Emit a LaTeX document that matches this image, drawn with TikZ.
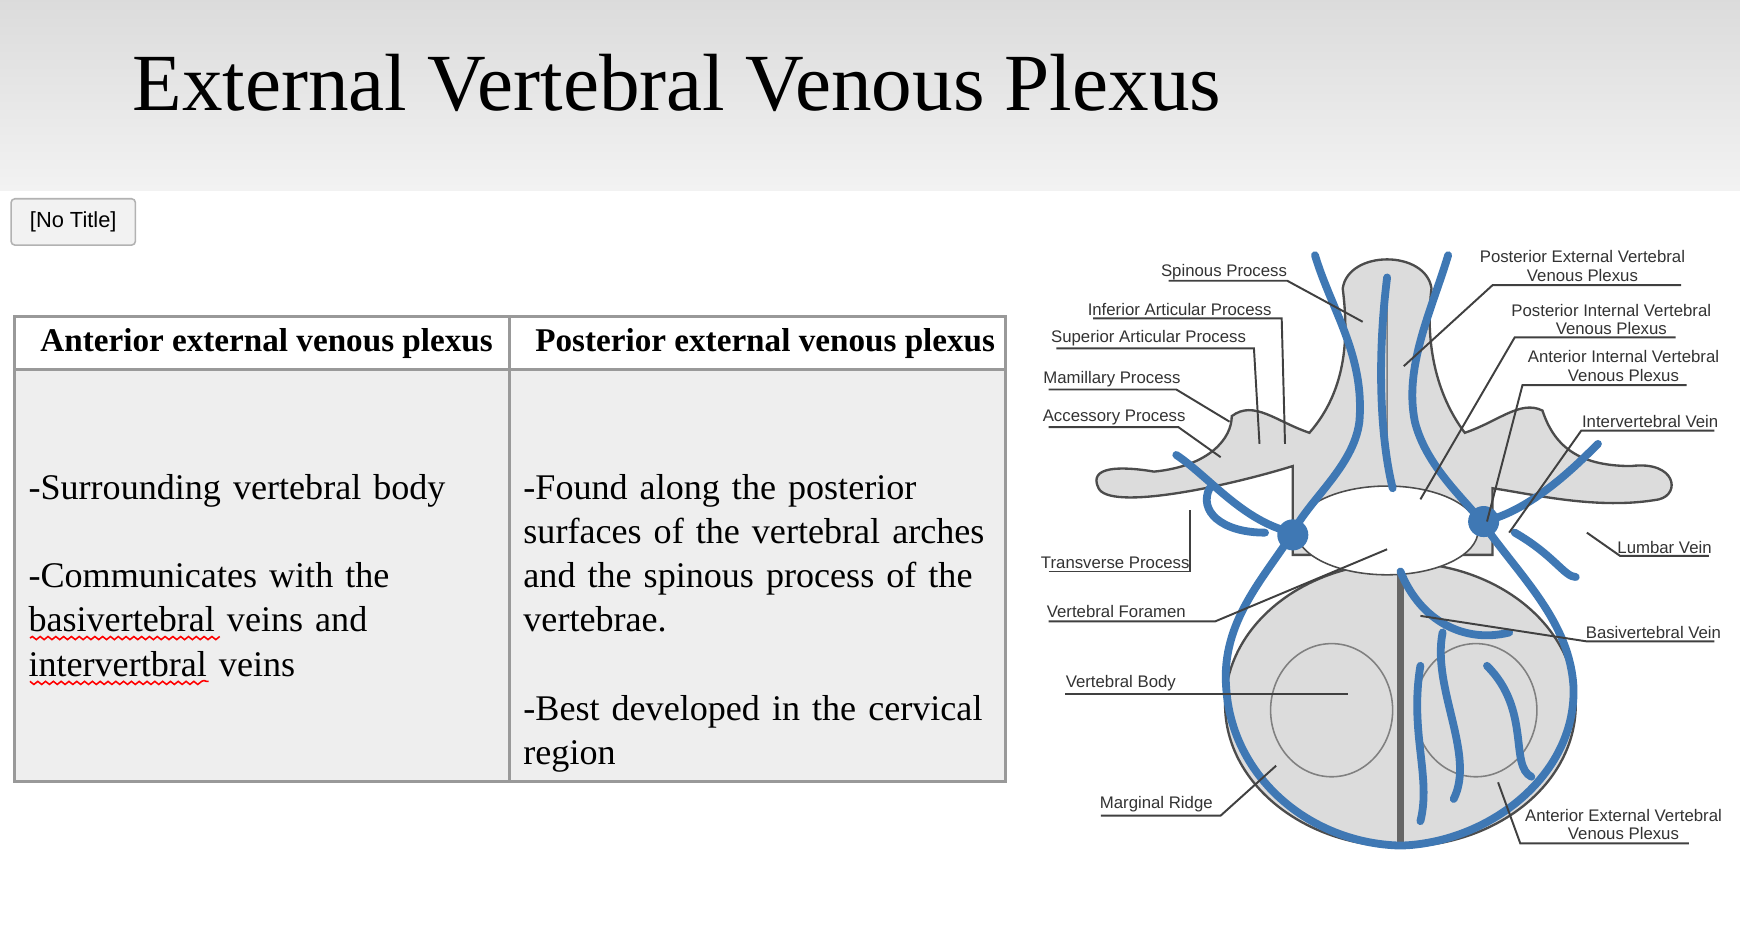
\documentclass[tikz,border=0pt]{standalone}
\usepackage{fontspec}
\setmainfont{Liberation Serif}
\newfontfamily\lab{Liberation Sans}
\usetikzlibrary{shapes.geometric,decorations.pathmorphing}
\definecolor{vein}{HTML}{3F78B4}
\definecolor{bone}{HTML}{DCDCDC}
\definecolor{cellg}{HTML}{EEEEEE}
\tikzset{
 lbl/.style={font=\lab\fontsize{4.3}{4.8}\selectfont,text=black!80,align=center,inner sep=1pt},
 lead/.style={black!75,line width=0.5pt},
 vn/.style={vein,line width=2pt,line cap=round},
 bonest/.style={fill=bone,draw=black!70,line width=0.6pt},
 cellt/.style={font=\fontsize{9.25}{11.3}\selectfont,align=left,anchor=north west,text width=4.3cm,inner sep=0pt}
}
\begin{document}
\begin{tikzpicture}[x=0.01cm,y=-0.01cm]
\useasboundingbox (0,0) rectangle (1568,843);
\fill[white] (0,0) rectangle (1568,843);
\shade[top color=black!14,bottom color=black!5] (0,0) rectangle (1568,172);
\node[anchor=west,font=\fontsize{20.8}{24}\selectfont] (title) at (107,75) {External Vertebral Venous Plexus};
\node[draw=black!30,fill=black!5,rounded corners=1pt,font=\lab\fontsize{5.6}{7}\selectfont,minimum width=1.12cm,minimum height=0.34cm] (nt) at (66,200) {[No Title]};
% table
\fill[cellg] (13,333) rectangle (906,704);
\draw[black!40,line width=0.7pt] (13,285) rectangle (906,704) (13,333) -- (906,333) (459,285) -- (459,704);
\node[anchor=west,font=\bfseries\fontsize{8.5}{10}\selectfont] (h1) at (24,310) {Anterior external venous plexus};
\node[anchor=west,font=\bfseries\fontsize{8.5}{10}\selectfont] (h2) at (470,310) {Posterior external venous plexus};
\node[cellt] (c1) at (25,427) {\raggedright\hyphenpenalty=10000 -Surrounding vertebral body\\[\baselineskip]-Communicates with the basivertebral veins and intervertbral veins\par};
\node[cellt] (c2) at (471,427) {\raggedright\hyphenpenalty=10000 -Found along the posterior surfaces of the vertebral arches and the spinous process of the vertebrae.\\[\baselineskip]-Best developed in the cervical region\par};
\draw[red,decorate,decoration={snake,amplitude=0.4pt,segment length=2pt}] (27,575) -- (196,575) (27,614) -- (188,614);
% vertebra
\draw[bonest] (1165,420) .. controls (1100,440) and (1000,460) .. (990,440) .. controls (980,420) and (1010,420) .. (1040,425) .. controls (1090,420) and (1110,395) .. (1110,375) .. controls (1130,360) and (1150,380) .. (1180,390)
 .. controls (1215,350) and (1215,300) .. (1210,260) .. controls (1215,225) and (1285,225) .. (1290,260) .. controls (1285,300) and (1290,350) .. (1320,390)
 .. controls (1350,380) and (1370,360) .. (1390,370) .. controls (1400,400) and (1420,420) .. (1470,420) .. controls (1510,415) and (1515,445) .. (1495,450) .. controls (1440,460) and (1380,445) .. (1345,440) -- (1345,500) -- (1165,500) -- cycle;
\draw[bonest] (1262,635) ellipse (158 and 128);
\fill[white] (1250,478) ellipse (82 and 40);
\draw[black!70] (1250,478) ellipse (82 and 40);
\draw[black!60,line width=2pt] (1262,515) -- (1262,762);
\draw[black!50,line width=0.4pt] (1200,640) ellipse (55 and 60) (1330,640) ellipse (55 and 60) (1250,270) -- (1250,400);
% veins
\draw[vn] (1250,250) .. controls (1240,330) and (1245,400) .. (1255,440);
\draw[vn] (1185,230) .. controls (1200,280) and (1230,320) .. (1225,380) .. controls (1220,420) and (1180,450) .. (1165,480);
\draw[vn] (1305,230) .. controls (1290,280) and (1265,330) .. (1275,380) .. controls (1285,420) and (1320,450) .. (1335,470);
\draw[vn] (1165,480) .. controls (1140,520) and (1100,560) .. (1105,620) .. controls (1110,700) and (1180,760) .. (1262,762) .. controls (1340,760) and (1420,700) .. (1418,620) .. controls (1415,560) and (1370,520) .. (1335,470);
\fill[vein] (1165,482) circle (14) (1337,470) circle (14);
\draw[vn] (1165,480) .. controls (1120,470) and (1090,430) .. (1060,410);
\draw[vn] (1337,470) .. controls (1380,460) and (1420,420) .. (1440,400);
\draw[vn] (1140,480) .. controls (1100,480) and (1080,460) .. (1090,440);
\draw[vn] (1365,480) .. controls (1400,500) and (1410,520) .. (1420,520);
\draw[vn] (1262,515) .. controls (1280,560) and (1320,580) .. (1360,570) (1300,570) .. controls (1290,620) and (1330,680) .. (1310,720) (1340,600) .. controls (1380,640) and (1360,690) .. (1380,700) (1280,600) .. controls (1270,660) and (1290,700) .. (1280,740);
% labels
\node[lbl] (l1) at (1103,245) {Spinous Process};
\draw[lead] (1053,253) -- (1160,253) -- (1228,290);
\node[lbl] (l2) at (1063,279) {Inferior Articular Process};
\draw[lead] (985,287) -- (1155,287) -- (1158,400);
\node[lbl] (l3) at (1035,305) {Superior Articular Process};
\draw[lead] (952,314) -- (1130,314) -- (1135,400);
\node[lbl] (l4) at (1002,342) {Mamillary Process};
\draw[lead] (945,351) -- (1060,351) -- (1108,380);
\node[lbl] (l5) at (1004,376) {Accessory Process};
\draw[lead] (945,385) -- (1062,385) -- (1100,412);
\node[lbl] (l6) at (1005,507) {Transverse Process};
\draw[lead] (945,515) -- (1072,515) -- (1072,460);
\node[lbl] (l7) at (1006,551) {Vertebral Foramen};
\draw[lead] (945,560) -- (1095,560) -- (1250,495);
\node[lbl] (l8) at (1010,616) {Vertebral Body};
\draw[lead] (960,625) -- (1215,625);
\node[lbl] (l9) at (1042,725) {Marginal Ridge};
\draw[lead] (992,735) -- (1100,735) -- (1150,690);
\node[lbl] (r1) at (1426,240) {Posterior External Vertebral\\Venous Plexus};
\draw[lead] (1515,257) -- (1345,257) -- (1265,330);
\node[lbl] (r2) at (1452,288) {Posterior Internal Vertebral\\Venous Plexus};
\draw[lead] (1510,304) -- (1365,304) -- (1280,450);
\node[lbl] (r3) at (1463,330) {Anterior Internal Vertebral\\Venous Plexus};
\draw[lead] (1520,347) -- (1372,347) -- (1340,470);
\node[lbl] (r4) at (1487,380) {Intervertebral Vein};
\draw[lead] (1545,388) -- (1425,388) -- (1360,480);
\node[lbl] (r5) at (1500,493) {Lumbar Vein};
\draw[lead] (1540,501) -- (1460,501) -- (1430,480);
\node[lbl] (r6) at (1490,570) {Basivertebral Vein};
\draw[lead] (1545,578) -- (1430,578) -- (1280,555);
\node[lbl] (r7) at (1463,743) {Anterior External Vertebral\\Venous Plexus};
\draw[lead] (1522,760) -- (1370,760) -- (1350,705);
\end{tikzpicture}
\end{document}
